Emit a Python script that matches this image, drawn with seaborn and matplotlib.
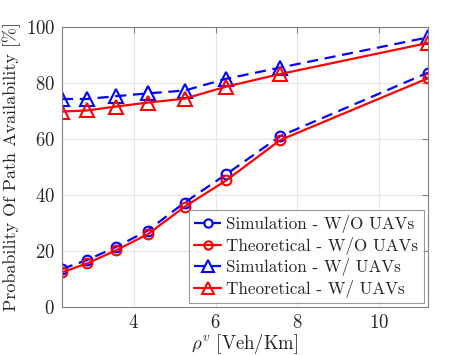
import matplotlib
matplotlib.use("Agg")
import matplotlib.pyplot as plt
import seaborn as sns
import numpy as np

sns.set_style("white")
plt.rcParams['font.family'] = ['cmr10', 'DejaVu Serif']
plt.rcParams['mathtext.fontset'] = 'cm'
plt.rcParams['axes.formatter.use_mathtext'] = True

rho = [2.24, 2.86, 3.57, 4.34, 5.24, 6.26, 7.58, 11.2]
sim_wo = [13.6, 16.8, 21.5, 27.3, 37.3, 47.4, 61.0, 83.7]
theo_wo = [12.4, 15.6, 20.3, 26.0, 35.8, 45.2, 59.6, 81.7]
sim_w = [74.3, 74.3, 75.3, 76.3, 77.3, 81.5, 85.5, 96.3]
theo_w = [69.8, 70.2, 71.6, 73.0, 74.4, 78.7, 83.2, 94.3]
labels = ["Simulation - W/O UAVs", "Theoretical - W/O UAVs",
          "Simulation - W/ UAVs", "Theoretical - W/ UAVs"]
xticks = [4, 6, 8, 10]
yticks = [0, 20, 40, 60, 80, 100]

fig = plt.figure(figsize=(4.74, 3.55), dpi=100)
ax = fig.add_axes([62/474, 1-307/355, (428-62)/474, (307-27)/355])

blue = "#0000ff"
red = "#ff0000"
series = [
    (sim_wo, labels[0], blue, "o", (5, 3), 7),
    (theo_wo, labels[1], red, "o", None, 7),
    (sim_w, labels[2], blue, "^", (5, 3), 9.5),
    (theo_w, labels[3], red, "^", None, 9.5),
]
for y, lab, c, m, dash, ms in series:
    sns.lineplot(x=rho, y=y, ax=ax, color=c, marker=m, markersize=ms,
                 markerfacecolor="none", markeredgecolor=c, markeredgewidth=1.5,
                 linewidth=1.6, label=lab, sort=False)
    line = ax.get_lines()[-1]
    if dash is not None:
        line.set_dashes(dash)

ax.set_xlim(2.24, 11.2)
ax.set_ylim(0, 100)
ax.set_xticks(xticks)
ax.set_yticks(yticks)
ax.grid(True, color="#e6e6e6", linewidth=0.8)
ax.set_axisbelow(True)
for s in ax.spines.values():
    s.set_color("#808080")
    s.set_linewidth(0.8)
ax.tick_params(direction="in", length=4, color="#808080", labelsize=13.5,
               labelcolor="#262626", top=True, right=True, pad=5)
ax.set_xlabel(r"$\rho^v$ [Veh/Km]", fontsize=13.5, color="#262626", labelpad=0)
ax.set_ylabel("Probability Of Path Availability [%]", fontsize=13, color="#262626", labelpad=3)

leg = ax.legend(loc="lower right", fontsize=12.3, frameon=True, fancybox=False,
                edgecolor="#808080", borderaxespad=0.25, handlelength=1.6,
                labelspacing=0.2, borderpad=0.3, handletextpad=0.3,
                markerscale=0.85)
leg.get_frame().set_linewidth(0.8)
for t in leg.get_texts():
    t.set_color("#262626")

fig.savefig("out.png", dpi=100, facecolor="white")
